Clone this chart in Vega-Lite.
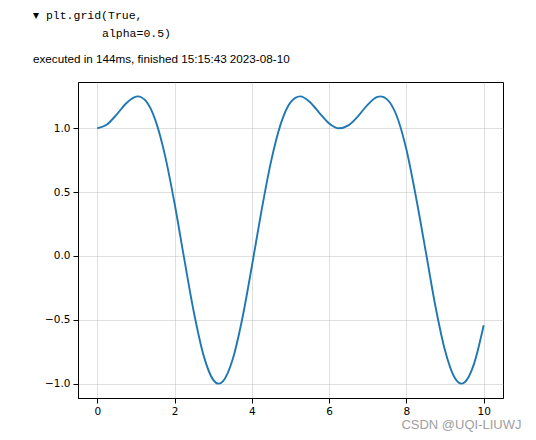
{
  "$schema": "https://vega.github.io/schema/vega-lite/v6.json",
  "width": 425,
  "height": 316,
  "padding": {"left": 33, "top": 9, "right": 15, "bottom": 8},
  "background": "white",
  "title": {
    "text": ["▾ plt.grid(True,", "\u200b\u00a0\u00a0\u00a0\u00a0\u00a0\u00a0\u00a0\u00a0\u00a0\u00a0alpha=0.5)"],
    "subtitle": "executed in 144ms, finished 15:15:43 2023-08-10",
    "anchor": "start",
    "frame": "group",
    "dx": -45,
    "font": "Liberation Mono",
    "fontSize": 11.5,
    "fontWeight": "normal",
    "color": "#000",
    "lineHeight": 18,
    "subtitleFont": "Liberation Sans",
    "subtitleFontSize": 11.7,
    "subtitleColor": "#000",
    "subtitlePadding": 15,
    "offset": 16
  },
  "config": {
    "view": {"stroke": "#000", "strokeWidth": 1},
    "axis": {
      "domainColor": "#000",
      "domainWidth": 1,
      "tickColor": "#000",
      "tickWidth": 1,
      "tickSize": 5,
      "labelFont": "DejaVu Sans",
      "labelFontSize": 10.5,
      "labelColor": "#000",
      "labelPadding": 3,
      "gridColor": "#b0b0b0",
      "gridOpacity": 0.5,
      "gridWidth": 0.8
    }
  },
  "data": {
    "values": [
      {"x": 0, "y": 1.0},
      {"x": 0.25, "y": 1.0301},
      {"x": 0.5, "y": 1.1074},
      {"x": 0.75, "y": 1.1963},
      {"x": 1.0, "y": 1.2484},
      {"x": 1.047, "y": 1.25},
      {"x": 1.25, "y": 1.2159},
      {"x": 1.5, "y": 1.0657},
      {"x": 1.75, "y": 0.79},
      {"x": 2.0, "y": 0.4107},
      {"x": 2.25, "y": -0.0228},
      {"x": 2.5, "y": -0.4429},
      {"x": 2.75, "y": -0.7786},
      {"x": 3.0, "y": -0.9701},
      {"x": 3.1416, "y": -1.0},
      {"x": 3.25, "y": -0.9823},
      {"x": 3.5, "y": -0.8135},
      {"x": 3.75, "y": -0.494},
      {"x": 4.0, "y": -0.0808},
      {"x": 4.25, "y": 0.3549},
      {"x": 4.5, "y": 0.7448},
      {"x": 4.75, "y": 1.0362},
      {"x": 5.0, "y": 1.2032},
      {"x": 5.25, "y": 1.2499},
      {"x": 5.5, "y": 1.2064},
      {"x": 5.75, "y": 1.1195},
      {"x": 6.0, "y": 1.0382},
      {"x": 6.25, "y": 1.0},
      {"x": 6.5, "y": 1.0229},
      {"x": 6.75, "y": 1.0952},
      {"x": 7.0, "y": 1.1855},
      {"x": 7.25, "y": 1.2456},
      {"x": 7.33, "y": 1.25},
      {"x": 7.5, "y": 1.2265},
      {"x": 7.75, "y": 1.0962},
      {"x": 8.0, "y": 0.8333},
      {"x": 8.25, "y": 0.4575},
      {"x": 8.5, "y": 0.0356},
      {"x": 8.75, "y": -0.392},
      {"x": 9.0, "y": -0.7412},
      {"x": 9.25, "y": -0.9543},
      {"x": 9.4248, "y": -1.0},
      {"x": 9.5, "y": -0.9916},
      {"x": 9.75, "y": -0.845},
      {"x": 10.0, "y": -0.5432}
    ]
  },
  "mark": {"type": "line", "color": "#1f77b4", "strokeWidth": 1.9, "interpolate": "monotone"},
  "encoding": {
    "x": {
      "field": "x",
      "type": "quantitative",
      "scale": {"domain": [-0.5, 10.5], "nice": false, "zero": false},
      "axis": {
        "values": [0, 2, 4, 6, 8, 10],
        "format": "d",
        "title": "CSDN @UQI-LIUWJ",
        "titleFont": "Liberation Sans",
        "titleFontSize": 13,
        "titleFontWeight": "normal",
        "titleColor": "#a0a0a0",
        "titleAlign": "right",
        "titleAnchor": "end",
        "titleBaseline": "alphabetic",
        "titleX": 443,
        "titleY": 30
      }
    },
    "y": {
      "field": "y",
      "type": "quantitative",
      "scale": {"domain": [-1.1125, 1.3625], "nice": false, "zero": false},
      "axis": {"values": [-1, -0.5, 0, 0.5, 1], "format": ".1f", "title": null}
    }
  }
}
